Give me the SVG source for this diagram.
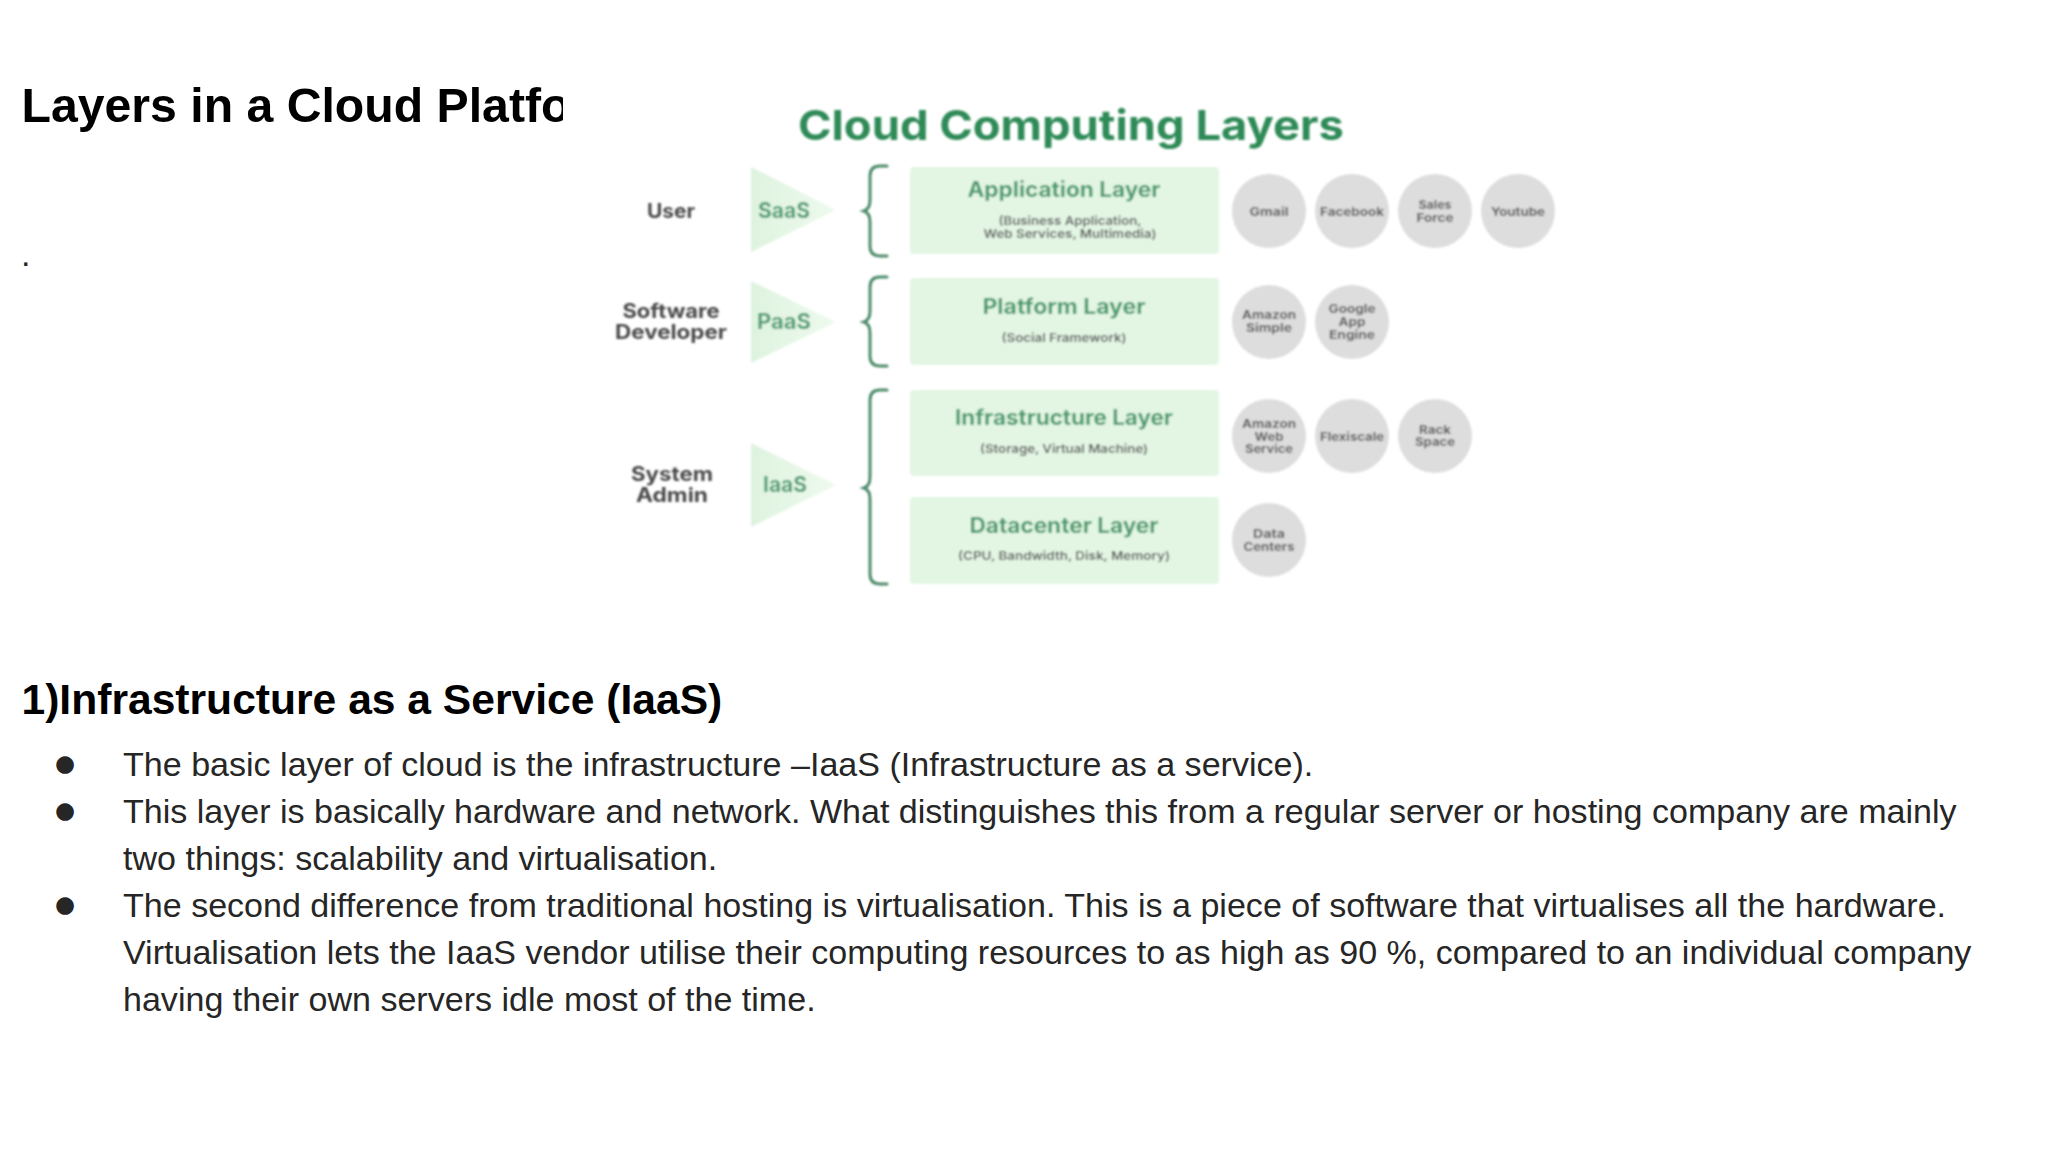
<svg xmlns="http://www.w3.org/2000/svg" width="2048" height="1152" viewBox="0 0 2048 1152">
<style>
.sl{font-family:"Liberation Sans",Arial,sans-serif}
.h1{font-size:48.2px;font-weight:700;fill:#000}
.h2{font-size:42.6px;font-weight:700;fill:#000}
.b{font-size:34.05px;fill:#262626}
.bu{font-family:"DejaVu Sans",sans-serif;font-size:23px;fill:#262626;text-anchor:middle}
.d{font-family:Inter,"Open Sans",sans-serif;text-anchor:middle}
.title{font-size:41px;font-weight:700;fill:#2f8a57}
.role{font-size:20px;font-weight:700;fill:#4a4a4a}
.svc{font-size:21px;font-weight:700;fill:#4f9e73}
.lt{font-size:21px;font-weight:700;fill:#4a9a6c}
.ls{font-size:12px;font-weight:600;fill:#5a5a5a}
.ci{font-size:11.5px;font-weight:700;fill:#5a5a5a}
.box{fill:#e3f6e4}
.tri{fill:url(#tg)}
.cir{fill:#dddddd}
.br{fill:none;stroke:#4d8c6b;stroke-width:3;stroke-linecap:round}
</style>
<defs>
<clipPath id="hc"><rect x="0" y="60" width="563" height="90"/></clipPath>
<linearGradient id="tg" x1="0" y1="0" x2="1" y2="0"><stop offset="0" stop-color="#def3df"/><stop offset="1" stop-color="#eefaee"/></linearGradient>
<filter id="soft" x="-5%" y="-5%" width="110%" height="110%"><feGaussianBlur stdDeviation="0.85"/></filter>
</defs>
<rect width="2048" height="1152" fill="#fff"/>
<g id="page-text" class="sl">
<text class="h1 sl" x="21.5" y="122" clip-path="url(#hc)">Layers in a Cloud Platfo</text>
<text class="b sl" x="21" y="266">.</text>
<text class="h2 sl" x="21.5" y="714">1)Infrastructure as a Service (IaaS)</text>
<text class="bu" x="65" y="771">●</text>
<text class="b sl" x="123" y="775.5">The basic layer of cloud is the infrastructure –IaaS (Infrastructure as a service).</text>
<text class="bu" x="65" y="818">●</text>
<text class="b sl" x="123" y="822.5">This layer is basically hardware and network. What distinguishes this from a regular server or hosting company are mainly</text>
<text class="b sl" x="123" y="869.5">two things: scalability and virtualisation.</text>
<text class="bu" x="65" y="912">●</text>
<text class="b sl" x="123" y="916.5">The second difference from traditional hosting is virtualisation. This is a piece of software that virtualises all the hardware.</text>
<text class="b sl" x="123" y="963.5">Virtualisation lets the IaaS vendor utilise their computing resources to as high as 90 %, compared to an individual company</text>
<text class="b sl" x="123" y="1010.5">having their own servers idle most of the time.</text>
</g>
<g id="diagram" filter="url(#soft)">
<text class="d title" x="1071" y="140" textLength="546" lengthAdjust="spacingAndGlyphs">Cloud Computing Layers</text>
<g id="connectors">
<path class="br" d="M887 166H880Q870 166 870 176V200Q870 209 864 211Q870 213 870 222V246Q870 256 880 256H887"/>
<path class="br" d="M887 277H880Q870 277 870 287V311Q870 320 864 322Q870 324 870 333V356Q870 366 880 366H887"/>
<path class="br" d="M887 390H880Q870 390 870 400V477Q870 486 864 488Q870 490 870 499V574Q870 584 880 584H887"/>
</g>
<g id="user"><text class="d role" x="671" y="218" textLength="48" lengthAdjust="spacingAndGlyphs">User</text></g>
<g id="developer"><text class="d role" x="671" y="318" textLength="97" lengthAdjust="spacingAndGlyphs">Software</text><text class="d role" x="671" y="339" textLength="112" lengthAdjust="spacingAndGlyphs">Developer</text></g>
<g id="admin"><text class="d role" x="672" y="481" textLength="82" lengthAdjust="spacingAndGlyphs">System</text><text class="d role" x="672" y="502" textLength="72" lengthAdjust="spacingAndGlyphs">Admin</text></g>
<g id="saas"><polygon class="tri" points="751,167 836,210 751,252"/><text class="d svc" x="784" y="218" textLength="52" lengthAdjust="spacingAndGlyphs">SaaS</text></g>
<g id="paas"><polygon class="tri" points="751,281 836,322 751,363"/><text class="d svc" x="784" y="329" textLength="54" lengthAdjust="spacingAndGlyphs">PaaS</text></g>
<g id="iaas"><polygon class="tri" points="751,443 836,485 751,527"/><text class="d svc" x="785" y="492" textLength="44" lengthAdjust="spacingAndGlyphs">IaaS</text></g>
<g id="app-layer"><rect class="box" x="910" y="167" width="309" height="87" rx="4"/><text class="d lt" x="1064" y="197" textLength="193" lengthAdjust="spacingAndGlyphs">Application Layer</text><text class="d ls" x="1070" y="225" textLength="143" lengthAdjust="spacingAndGlyphs">(Business Application,</text><text class="d ls" x="1070" y="238" textLength="173" lengthAdjust="spacingAndGlyphs">Web Services, Multimedia)</text></g>
<g id="platform-layer"><rect class="box" x="910" y="278" width="309" height="87" rx="4"/><text class="d lt" x="1064" y="314" textLength="163" lengthAdjust="spacingAndGlyphs">Platform Layer</text><text class="d ls" x="1064" y="342" textLength="125" lengthAdjust="spacingAndGlyphs">(Social Framework)</text></g>
<g id="infra-layer"><rect class="box" x="910" y="390" width="309" height="86" rx="4"/><text class="d lt" x="1064" y="425" textLength="218" lengthAdjust="spacingAndGlyphs">Infrastructure Layer</text><text class="d ls" x="1064" y="453" textLength="168" lengthAdjust="spacingAndGlyphs">(Storage, Virtual Machine)</text></g>
<g id="dc-layer"><rect class="box" x="910" y="497" width="309" height="87" rx="4"/><text class="d lt" x="1064" y="533" textLength="189" lengthAdjust="spacingAndGlyphs">Datacenter Layer</text><text class="d ls" x="1064" y="560" textLength="212" lengthAdjust="spacingAndGlyphs">(CPU, Bandwidth, Disk, Memory)</text></g>
<g id="gmail"><circle class="cir" cx="1269" cy="211" r="37"/><text class="d ci" x="1269" y="216" textLength="39" lengthAdjust="spacingAndGlyphs">Gmail</text></g>
<g id="facebook"><circle class="cir" cx="1352" cy="211" r="37"/><text class="d ci" x="1352" y="216" textLength="64" lengthAdjust="spacingAndGlyphs">Facebook</text></g>
<g id="salesforce"><circle class="cir" cx="1435" cy="211" r="37"/><text class="d ci" x="1435" y="209" textLength="33" lengthAdjust="spacingAndGlyphs">Sales</text><text class="d ci" x="1435" y="222" textLength="37" lengthAdjust="spacingAndGlyphs">Force</text></g>
<g id="youtube"><circle class="cir" cx="1518" cy="211" r="37"/><text class="d ci" x="1518" y="216" textLength="54" lengthAdjust="spacingAndGlyphs">Youtube</text></g>
<g id="amazon-simple"><circle class="cir" cx="1269" cy="322" r="37"/><text class="d ci" x="1269" y="319" textLength="54" lengthAdjust="spacingAndGlyphs">Amazon</text><text class="d ci" x="1269" y="332" textLength="46" lengthAdjust="spacingAndGlyphs">Simple</text></g>
<g id="google-app"><circle class="cir" cx="1352" cy="322" r="37"/><text class="d ci" x="1352" y="313" textLength="47" lengthAdjust="spacingAndGlyphs">Google</text><text class="d ci" x="1352" y="326" textLength="27" lengthAdjust="spacingAndGlyphs">App</text><text class="d ci" x="1352" y="339" textLength="46" lengthAdjust="spacingAndGlyphs">Engine</text></g>
<g id="aws"><circle class="cir" cx="1269" cy="436" r="37"/><text class="d ci" x="1269" y="428" textLength="54" lengthAdjust="spacingAndGlyphs">Amazon</text><text class="d ci" x="1269" y="441" textLength="29" lengthAdjust="spacingAndGlyphs">Web</text><text class="d ci" x="1269" y="453" textLength="48" lengthAdjust="spacingAndGlyphs">Service</text></g>
<g id="flexiscale"><circle class="cir" cx="1352" cy="436" r="37"/><text class="d ci" x="1352" y="441" textLength="64" lengthAdjust="spacingAndGlyphs">Flexiscale</text></g>
<g id="rackspace"><circle class="cir" cx="1435" cy="436" r="37"/><text class="d ci" x="1435" y="434" textLength="32" lengthAdjust="spacingAndGlyphs">Rack</text><text class="d ci" x="1435" y="446" textLength="40" lengthAdjust="spacingAndGlyphs">Space</text></g>
<g id="datacenters"><circle class="cir" cx="1269" cy="540" r="37"/><text class="d ci" x="1269" y="538" textLength="32" lengthAdjust="spacingAndGlyphs">Data</text><text class="d ci" x="1269" y="551" textLength="51" lengthAdjust="spacingAndGlyphs">Centers</text></g>
</g>
</svg>
